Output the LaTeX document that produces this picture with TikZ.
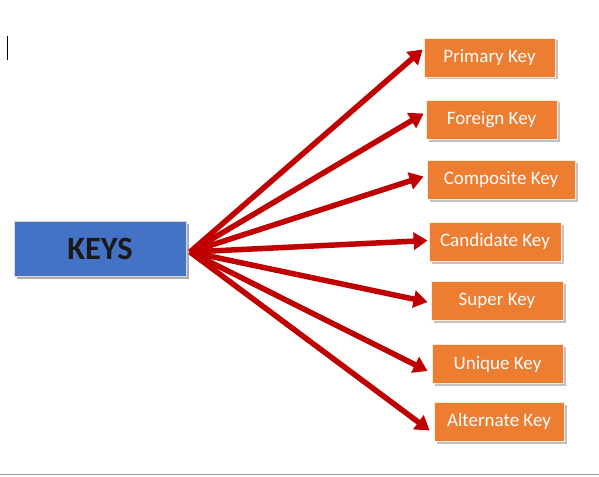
\documentclass[tikz,border=0pt]{standalone}
\usepackage{fontspec}
\setmainfont{Carlito}
\usetikzlibrary{arrows.meta,shadows}
\definecolor{keyblue}{HTML}{4472C4}
\definecolor{keyorange}{HTML}{ED7D31}
\definecolor{arrowred}{HTML}{C00000}
\tikzset{
  mainbox/.style={draw=white!85!black, line width=0.8pt, fill=keyblue, minimum width=172pt, minimum height=55pt,
    inner sep=0pt, font=\bfseries\fontsize{32.5}{33}\selectfont, text=black!90,
    drop shadow={shadow xshift=2.5pt, shadow yshift=-2.5pt, fill=black!45, opacity=0.7}},
  keybox/.style={draw=orange!15, line width=0.8pt, fill=keyorange, minimum height=39pt, inner sep=0pt,
    font=\fontsize{19}{19}\selectfont, text=white,
    drop shadow={shadow xshift=2.5pt, shadow yshift=-2.5pt, fill=black!40, opacity=0.6}},
  link/.style={draw=arrowred, line width=5.5pt, -{Triangle[length=14pt,width=17pt]}, shorten >=0pt}
}
\begin{document}
\begin{tikzpicture}[x=1pt,y=-1pt]
\useasboundingbox (0,0) rectangle (599,476);
\fill[white] (0,0) rectangle (599,476);
\draw[black!40, line width=1pt] (0,474) -- (599,474);
\draw[black, line width=1pt] (7,36) -- (7,60);
\node[mainbox] (keys) at (100,248.5) {KEYS};
\coordinate (hub) at (190,252);
\node[keybox, minimum width=131pt] (pk) at (489.5,57.5) {Primary Key};
\node[keybox, minimum width=131pt] (fk) at (491.5,119.5) {Foreign Key};
\node[keybox, minimum width=148pt] (ck) at (501,179.5) {Composite Key};
\node[keybox, minimum width=132pt] (cdk) at (495,241.5) {Candidate Key};
\node[keybox, minimum width=132pt] (sk) at (497,301) {Super Key};
\node[keybox, minimum width=131pt] (uk) at (497.5,364) {Unique Key};
\node[keybox, minimum width=130pt] (ak) at (499,421.5) {Alternate Key};
\draw[link] (hub) -- ([xshift=-1pt,yshift=8pt]pk.west);
\draw[link] (hub) -- ([xshift=-2pt,yshift=6pt]fk.west);
\draw[link] (hub) -- ([xshift=-3pt,yshift=3pt]ck.west);
\draw[link] (hub) -- ([xshift=-1pt,yshift=1pt]cdk.west);
\draw[link] (hub) -- ([xshift=-3pt,yshift=-1pt]sk.west);
\draw[link] (hub) -- ([xshift=-4pt,yshift=-7pt]uk.west);
\draw[link] (hub) -- ([xshift=-4pt,yshift=-9pt]ak.west);
\end{tikzpicture}
\end{document}
